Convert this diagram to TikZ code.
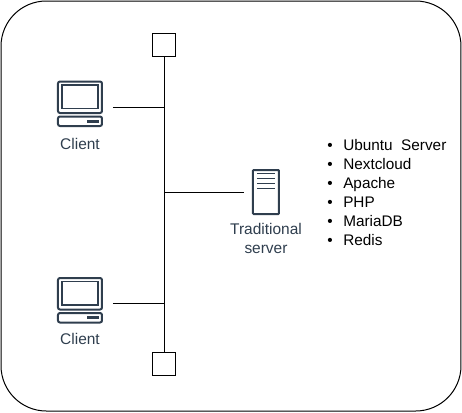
\documentclass[tikz,border=0pt]{standalone}
\usepackage{fontspec}
\setmainfont{Liberation Sans}
\usepackage{xcolor}
\usetikzlibrary{positioning}

\definecolor{icondark}{HTML}{2F3E4E}

\tikzset{
  iconspace/.style={inner sep=0pt, outer sep=0pt},
  iconline/.style={draw=icondark, line width=1.5pt, rounded corners=1.5pt},
  wire/.style={draw=black, line width=0.75pt},
  busend/.style={draw=black, line width=0.75pt, fill=white, inner sep=0pt, minimum size=17.25pt},
  caption/.style={text=icondark, font=\fontsize{11.6pt}{14.4pt}\selectfont, align=center, inner sep=0pt},
  pics/clienticon/.style={code={
    \draw[iconline] (-22,-25.5) rectangle (22,6);
    \draw[iconline, line width=1.1pt, rounded corners=0pt] (-18,-22) rectangle (18,1.5);
    \draw[iconline] (-22,9.5) rectangle (22,19);
    \fill[icondark] (7,12.7) rectangle (19,15.9);
  }},
  pics/servericon/.style={code={
    \draw[iconline, rounded corners=0.6pt] (-13,-22) rectangle (13,22);
    \foreach \y in {-18.5,-13.5,-8.5,-3.5} {
      \draw[icondark, line width=1.1pt] (-9,\y) -- (9,\y);
    }
  }}
}

\begin{document}
\begin{tikzpicture}[x=0.75pt, y=-0.75pt]
  \useasboundingbox (0,0) rectangle (462,412);
  \draw[line width=0.75pt, rounded corners=34pt] (1,1) rectangle (461,411);

  \node[busend] (bustop) at (164.5,44.5) {};
  \node[busend] (busbottom) at (164.5,363.5) {};
  \draw[wire] (bustop) -- (busbottom);

  \node[iconspace, minimum width=49.5pt, minimum height=39pt] (client1) at (80,107) {};
  \node[iconspace, minimum width=49.5pt, minimum height=39pt] (client2) at (80,303.5) {};
  \node[iconspace, minimum width=33pt, minimum height=33pt] (server) at (266,192) {};

  \pic at (client1) {clienticon};
  \pic at (client2) {clienticon};
  \pic at (server) {servericon};

  \draw[wire] (client1.east) -- (client1.east -| bustop);
  \draw[wire] (client2.east) -- (client2.east -| busbottom);
  \draw[wire] (server.west) -- (server.west -| bustop);

  \node[caption, below=3.6pt of client1] (clientlabel1) {Client};
  \node[caption, below=2.6pt of client2] (clientlabel2) {Client};
  \node[caption, below=6.5pt of server] (serverlabel) {Traditional\\server};

  \node[inner sep=0pt, anchor=north west, align=left, font=\fontsize{11.5pt}{14.25pt}\selectfont] (stacklist) at (327,139) {%
    \makebox[12pt][l]{\textbullet}Ubuntu\ \ Server\\
    \makebox[12pt][l]{\textbullet}Nextcloud\\
    \makebox[12pt][l]{\textbullet}Apache\\
    \makebox[12pt][l]{\textbullet}PHP\\
    \makebox[12pt][l]{\textbullet}MariaDB\\
    \makebox[12pt][l]{\textbullet}Redis};
\end{tikzpicture}
\end{document}
